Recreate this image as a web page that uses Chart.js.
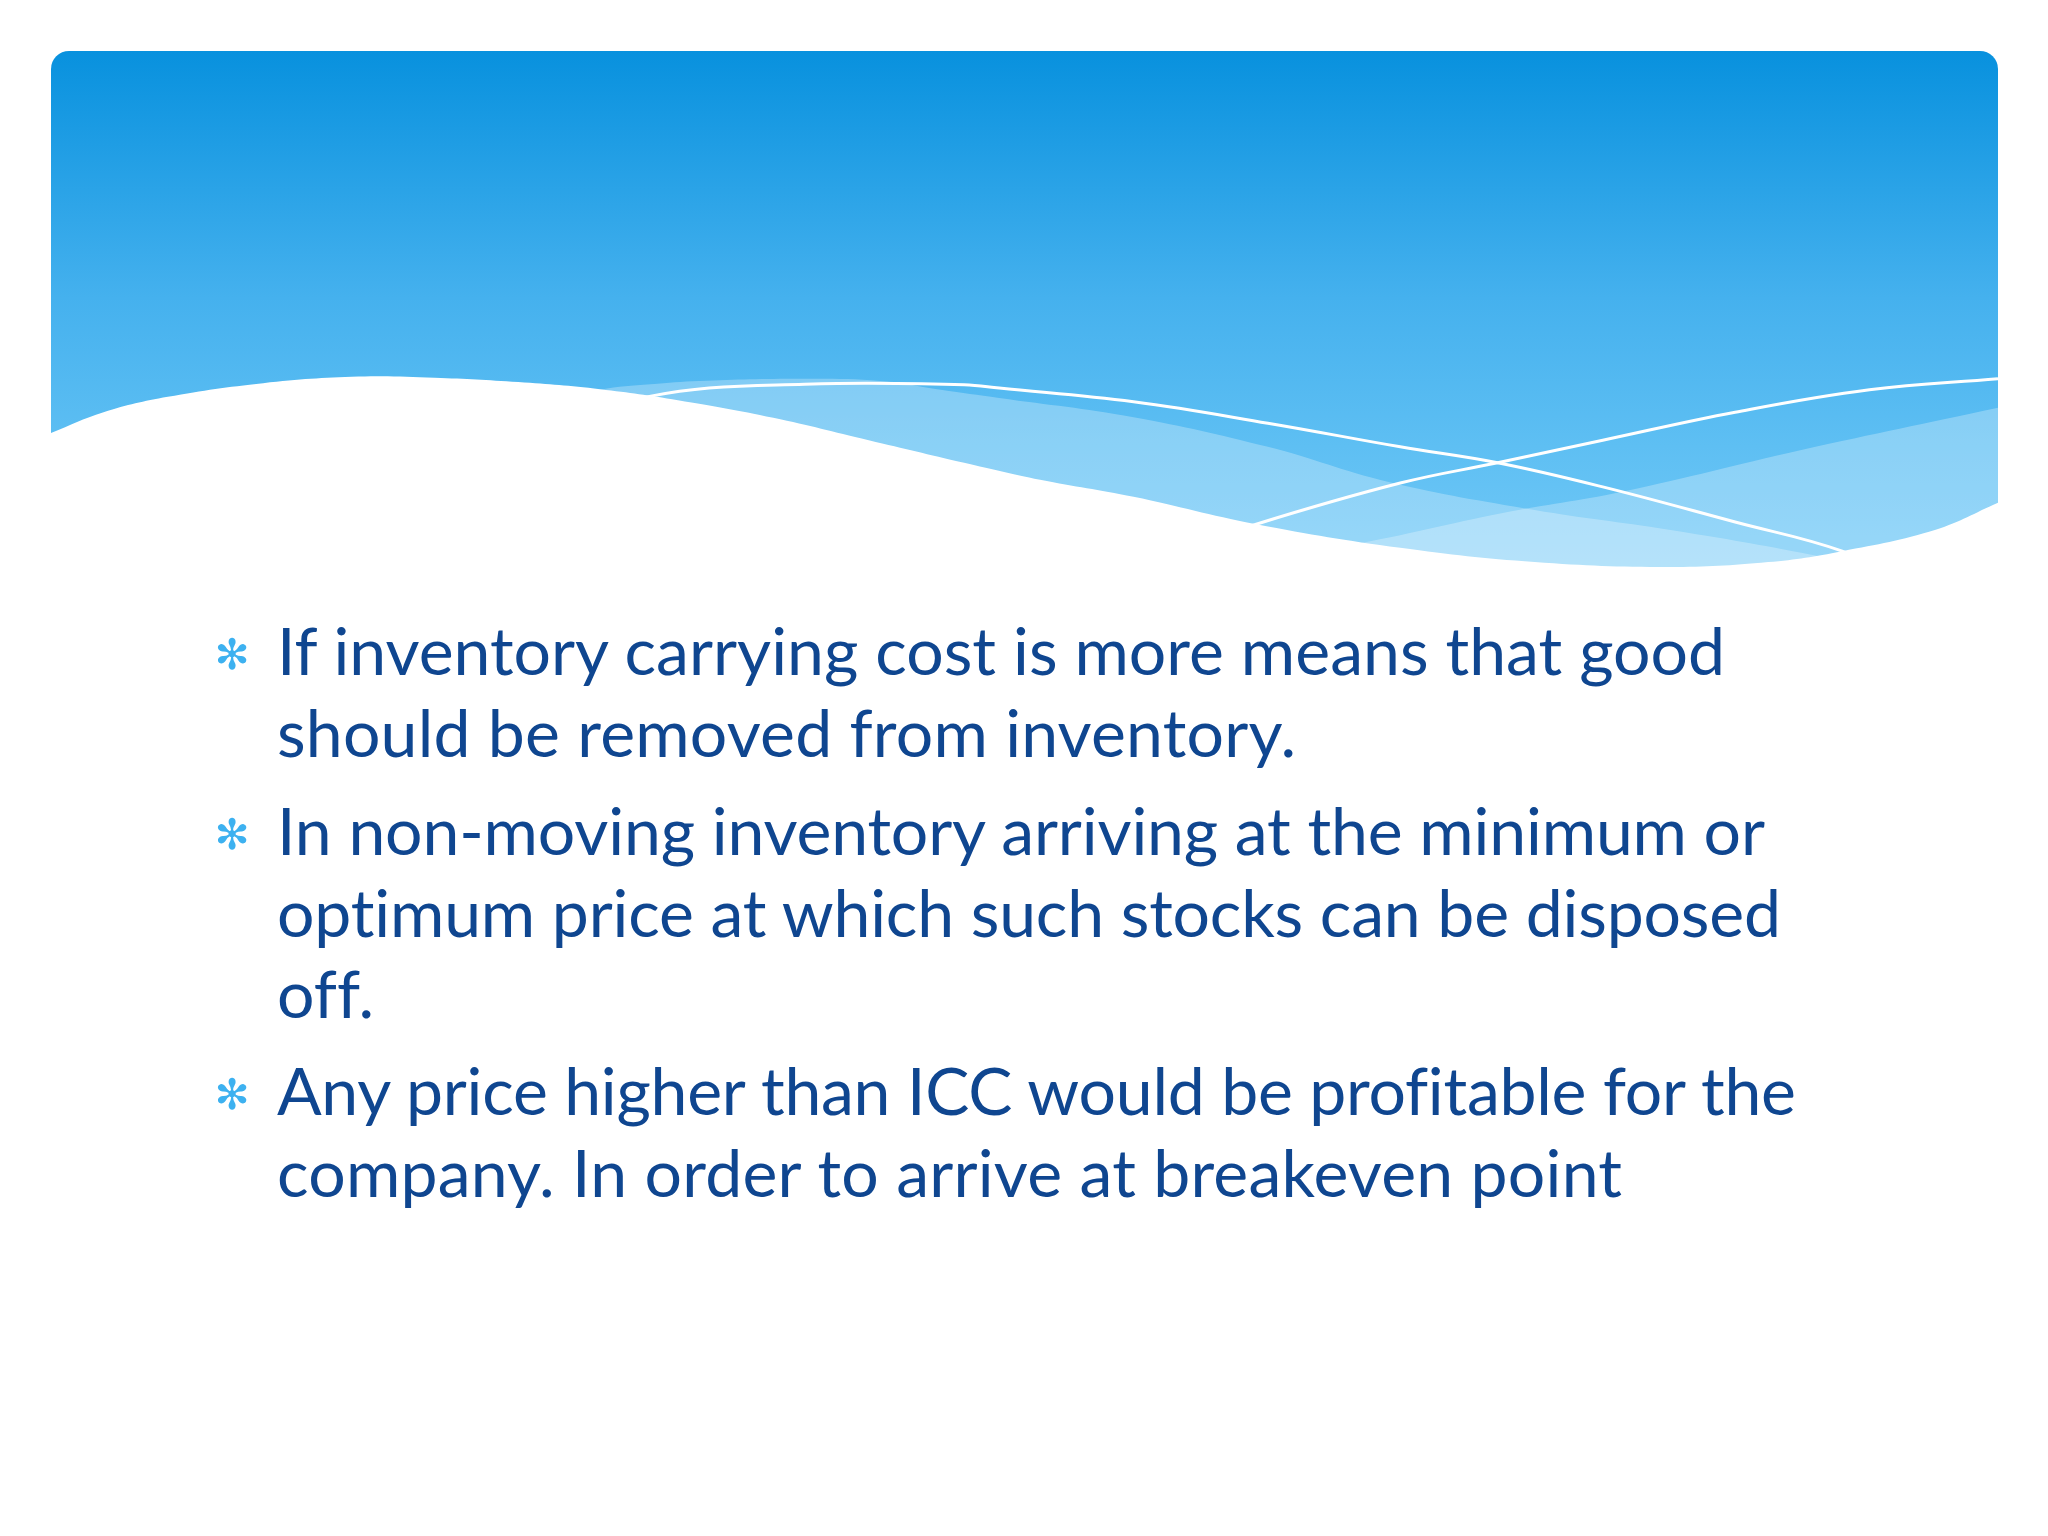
<!DOCTYPE html>
<html>
<head>
<meta charset="utf-8">
<script src="https://cdn.jsdelivr.net/npm/chart.js@4.4.1/dist/chart.umd.min.js"></script>
<style>
  html, body { margin: 0; padding: 0; background: #fff; }
  #page { position: relative; width: 2048px; height: 1536px; overflow: hidden; }
  #header { position: absolute; left: 0; top: 0; }
  #textLayer { position: absolute; left: 0; top: 0; }
  #textLayer text { font-variant-ligatures: none; font-feature-settings: "liga" 0, "clig" 0; }
</style>
</head>
<body>
<div id="page">
  <canvas id="header" width="2048" height="620"></canvas>
  <svg id="textLayer" width="2048" height="1536" xmlns="http://www.w3.org/2000/svg"></svg>
</div>
<script>
// wave curves: x = % of header width, y = % of header height (0 = bottom)
const whiteWaveX = [0, 2.7, 6.0, 10.9, 15.8, 19.7, 24.0, 28.2, 32.2, 37.1, 42.0, 46.9, 50.8, 55.6, 61.9, 69.3, 76.2, 83.1, 88.2, 92.0, 96.8, 100];
const whiteWaveY = [30.4, 34.2, 37.0, 39.5, 40.7, 40.5, 39.7, 38.4, 36.4, 33.2, 29.1, 25.0, 21.9, 18.8, 13.8, 9.5, 6.9, 6.0, 6.9, 8.9, 12.8, 17.7];

const bandAX = [25.1, 28.2, 30.8, 33.3, 38.5, 42.6, 45.7, 48.7, 55.6, 62.5, 68.7, 76.2, 83.1, 89.9, 95.0, 100];
const bandAY = [35.5, 38.3, 39.3, 39.9, 40.3, 39.9, 38.3, 36.8, 33.3, 27.9, 21.5, 16.4, 12.8, 8.6, 4.6, 1.8];

const bandCX = [61.6, 67.3, 74.5, 80.7, 89.9, 100];
const bandCY = [7.3, 10.4, 15.8, 19.7, 27.3, 35.0];

const line1X = [29.2, 30.6, 33.8, 38.7, 42.0, 46.9, 48.7, 55.6, 62.5, 69.3, 74.3, 79.7, 86.5, 92.0, 95.0];
const line1Y = [35.5, 37.0, 38.6, 39.3, 39.5, 39.2, 38.6, 36.1, 32.2, 27.9, 25.0, 20.6, 14.2, 8.9, 3.6];

const line2X = [59.0, 61.9, 69.3, 74.3, 79.7, 86.5, 93.4, 100];
const line2Y = [10.0, 13.8, 21.3, 25.0, 29.1, 34.2, 38.3, 40.3];

// slide text, one array per bullet, one string per line
const bullet1 = ["If inventory carrying cost is more means that good", "should be removed from inventory."];
const bullet2 = ["In non-moving inventory arriving at the minimum or", "optimum price at which such stocks can be disposed", "off."];
const bullet3 = ["Any price higher than ICC would be profitable for the", "company. In order to arrive at breakeven point"];

// layout of the text block (px): baselines and line widths
const lineBaselines = [675, 757, 855, 937, 1018, 1115, 1197];
const lineWidths = [1448, 1019, 1488, 1504, null, 1519, 1345];

function points(xs, ys) {
    return xs.map((x, i) => ({ x: x, y: ys[i] }));
}

const headerBackground = {
    id: 'headerBackground',
    beforeDatasetsDraw(chart) {
        const { ctx, chartArea: a } = chart;
        const g = ctx.createLinearGradient(0, a.top, 0, a.bottom);
        g.addColorStop(0, '#0891de');
        g.addColorStop(0.45, '#45b1ee');
        g.addColorStop(0.72, '#5ebff3');
        g.addColorStop(1, '#76cbf7');
        ctx.save();
        ctx.beginPath();
        ctx.roundRect(a.left, a.top, a.right - a.left, a.bottom - a.top, [18, 18, 0, 0]);
        ctx.fillStyle = g;
        ctx.fill();
        ctx.restore();
    }
};

const noLine = 'rgba(0,0,0,0)';

new Chart(document.getElementById('header'), {
    type: 'line',
    data: {
        datasets: [
            {
                data: points(whiteWaveX, whiteWaveY),
                fill: 'start',
                backgroundColor: '#ffffff',
                borderColor: noLine,
                order: 0
            },
            {
                data: points(line1X, line1Y),
                fill: false,
                borderColor: '#ffffff',
                borderWidth: 3,
                order: 1
            },
            {
                data: points(line2X, line2Y),
                fill: false,
                borderColor: '#ffffff',
                borderWidth: 3,
                order: 1
            },
            {
                data: points(bandAX, bandAY),
                fill: 'start',
                backgroundColor: 'rgba(255,255,255,0.28)',
                borderColor: noLine,
                order: 2
            },
            {
                data: points(bandCX, bandCY),
                fill: 'start',
                backgroundColor: 'rgba(255,255,255,0.28)',
                borderColor: noLine,
                order: 3
            }
        ]
    },
    options: {
        responsive: false,
        animation: false,
        devicePixelRatio: 1,
        layout: { padding: { left: 51, right: 50, top: 51, bottom: 20 } },
        elements: {
            point: { radius: 0 },
            line: { tension: 0.4 }
        },
        plugins: {
            legend: { display: false },
            tooltip: { enabled: false }
        },
        scales: {
            x: { type: 'linear', min: 0, max: 100, display: false },
            y: { type: 'linear', min: 0, max: 100, display: false }
        }
    },
    plugins: [headerBackground]
});

// text block
const svgNS = 'http://www.w3.org/2000/svg';
const svg = document.getElementById('textLayer');
const fontFamily = 'Lato';

const probe = document.createElement('canvas').getContext('2d');
probe.font = '100px ' + fontFamily;
const fontSize = 100 * 1450 / probe.measureText(bullet1[0]).width;

let row = 0;
[bullet1, bullet2, bullet3].forEach(lines => {
    const mark = document.createElementNS(svgNS, 'text');
    mark.setAttribute('x', 232);
    mark.setAttribute('y', lineBaselines[row] - 6);
    mark.setAttribute('text-anchor', 'middle');
    mark.setAttribute('font-family', 'DejaVu Sans');
    mark.setAttribute('font-weight', 'bold');
    mark.setAttribute('font-size', 42);
    mark.setAttribute('fill', '#3db1f0');
    mark.textContent = '\u273B';
    svg.appendChild(mark);

    lines.forEach(line => {
        const t = document.createElementNS(svgNS, 'text');
        t.setAttribute('x', 277);
        t.setAttribute('y', lineBaselines[row]);
        t.setAttribute('font-family', fontFamily);
        t.setAttribute('font-size', fontSize.toFixed(1));
        t.setAttribute('fill', '#0f4690');
        if (lineWidths[row]) {
            t.setAttribute('textLength', lineWidths[row]);
            t.setAttribute('lengthAdjust', 'spacing');
        }
        t.textContent = line;
        svg.appendChild(t);
        row++;
    });
});
</script>
</body>
</html>
